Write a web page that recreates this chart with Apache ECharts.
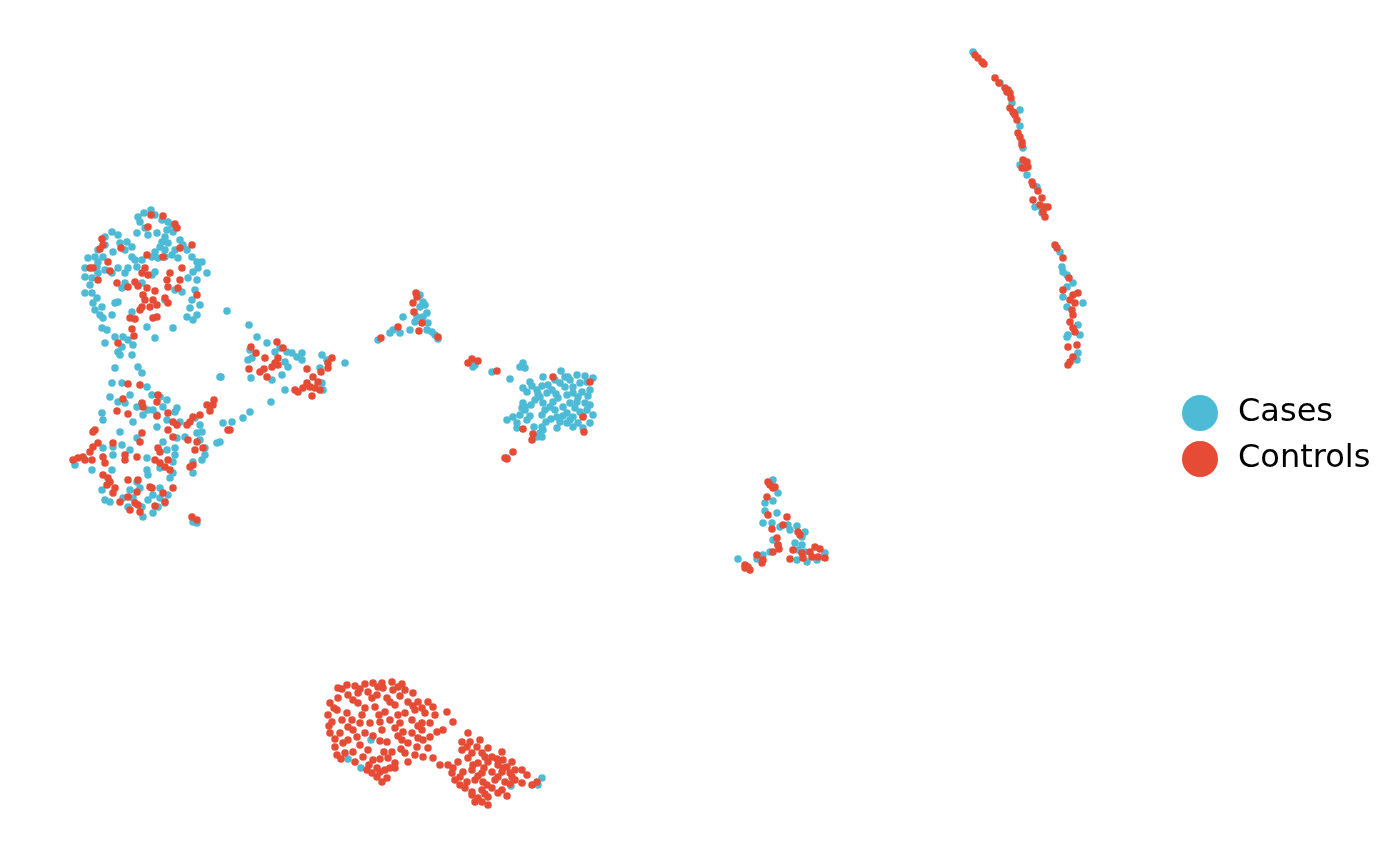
<!DOCTYPE html>
<html>
<head>
<meta charset="utf-8">
<script src="https://cdn.jsdelivr.net/npm/echarts@6/dist/echarts.min.js"></script>
<style>html,body{margin:0;padding:0;background:#fff;}#chart{width:1400px;height:865px;}</style>
</head>
<body>
<div id="chart"></div>
<script>
var seriesNames = ['Cases', 'Controls'];
var seriesColors = ['#4DBBD5', '#E64B35'];

// UMAP-like embedding coordinates [x, y] (y grows downward in this embedding)
var casesPoints = [
[15.1,21.0],[14.4,21.3],[13.8,21.7],[14.0,22.2],[15.5,21.5],[16.2,22.0],[16.8,22.2],[17.2,22.5],[16.7,23.0],[17.3,23.2],[13.7,23.3],[14.5,22.8],[14.8,23.5],[15.7,23.3],[16.5,23.7],[16.2,24.2],[16.8,24.3],[16.0,24.7],[16.5,25.0],[15.5,25.2],[15.2,25.7],[15.8,25.8],[16.5,25.7],[17.2,25.5],[18.0,24.0],[18.3,24.5],[18.7,25.0],[17.5,25.0],[17.8,25.8],[19.2,25.7],[19.7,26.2],[20.2,26.2],[19.8,26.8],[20.7,27.3],[19.3,27.2],[18.8,27.8],[19.7,28.0],[19.5,29.0],[18.2,29.2],[17.5,29.0],[19.2,30.0],[20.0,30.5],[19.0,30.8],[19.7,31.5],[18.7,31.7],[19.3,32.0],[11.2,23.2],[10.5,23.7],[11.8,23.5],[12.0,24.3],[12.7,24.2],[13.2,24.7],[12.5,25.0],[13.2,25.7],[13.5,26.0],[11.3,25.2],[10.5,24.5],[9.8,25.0],[9.5,25.7],[8.8,25.8],[10.3,25.7],[9.8,26.2],[9.7,26.7],[8.5,26.8],[8.5,27.7],[9.2,27.8],[9.8,27.3],[10.5,27.0],[11.2,27.3],[11.8,26.8],[12.5,27.3],[12.8,26.8],[13.7,26.7],[14.2,26.0],[15.2,27.5],[15.5,27.2],[14.2,28.3],[12.5,28.3],[12.2,28.8],[9.0,28.5],[8.5,29.3],[9.2,29.3],[9.7,29.8],[9.3,30.3],[9.5,31.0],[10.2,30.7],[10.0,31.5],[10.3,31.8],[11.8,30.2],[11.5,30.3],[13.2,31.2],[11.2,31.5],[10.2,32.8],[10.7,33.0],[11.5,33.7],[12.3,33.7],[12.8,34.0],[13.3,34.5],[12.2,34.7],[11.8,35.2],[12.0,35.5],[13.2,35.5],[10.5,34.3],[14.7,32.7],[15.5,33.8],[17.3,32.8],[16.5,30.0],
[11.5,36.8],[13.8,36.7],[14.2,37.3],[11.2,38.3],[12.2,38.3],[14.7,38.7],[11.0,39.7],[11.8,40.2],[13.0,39.5],[12.5,40.3],[13.7,40.7],[15.2,39.5],[16.0,39.7],[16.7,40.0],[16.3,40.7],[15.3,41.0],[17.7,40.8],[17.5,41.2],[10.2,41.3],[10.3,42.0],[13.3,42.2],[14.3,41.5],[14.8,41.0],[15.7,41.5],[16.7,42.0],[18.0,42.2],[15.7,42.7],[12.0,43.2],[13.7,43.8],[16.3,44.2],[17.7,43.8],[18.5,43.7],[10.3,44.8],[11.3,44.7],[12.2,44.5],[13.0,45.0],[11.3,45.5],[14.7,45.8],[16.7,45.0],[17.5,44.8],[17.5,45.5],[17.3,46.2],[16.0,46.8],[14.7,47.0],[14.8,47.5],[13.7,48.2],[14.0,48.8],[13.0,49.0],[11.2,47.0],[9.2,47.0],[7.5,46.5],[10.2,49.0],[10.5,50.0],[11.0,50.2],[12.3,49.8],[12.8,50.7],[13.3,49.8],[14.2,50.7],[14.3,51.7],[14.8,50.0],[15.3,49.5],[16.0,48.8],[16.0,49.8],[15.3,51.3],[15.8,50.7],[16.5,50.3],[16.8,49.5],[17.0,47.8],[17.3,47.3],[19.5,41.8],[20.0,42.5],[20.2,43.2],[19.7,43.3],[20.0,44.0],[20.5,44.8],[19.3,46.2],[20.2,46.0],[20.5,45.5],[22.3,42.3],[21.7,44.3],[22.0,44.2],[22.0,37.7],[19.3,47.3],[19.7,52.3],[19.3,52.2],
[22.7,31.1],[24.9,32.5],[25.7,33.7],[26.7,34.3],[25.0,35.0],[24.8,36.0],[25.2,35.8],[27.5,35.2],[28.0,34.8],[28.7,35.2],[29.2,35.3],[29.7,35.7],[30.2,35.3],[30.2,36.0],[28.5,36.2],[28.8,36.7],[28.2,37.5],[27.2,38.0],[25.1,37.8],[32.2,35.5],[32.0,36.8],[32.7,36.0],[34.5,36.3],[32.2,38.3],[32.3,39.0],[28.5,39.0],[22.1,37.7],[27.1,40.2],[25.0,41.2],[24.3,41.8],[23.2,42.2],
[42.0,29.5],[42.3,30.2],[42.5,30.5],[42.0,30.7],[42.7,31.3],[42.3,31.7],[41.7,31.7],[41.5,32.2],[42.8,32.3],[42.7,33.0],[43.2,33.2],[43.5,33.5],[43.8,33.9],[41.0,33.0],[40.3,31.7],[39.3,33.0],[39.0,33.3],[40.0,33.3],[37.8,34.0],
[47.5,36.5],[52.3,36.3],[52.0,36.7],[52.5,36.8],[49.2,37.2],[51.0,37.9],[54.3,37.7],[56.1,37.1],[56.5,37.7],[56.8,37.7],[57.0,38.0],[59.3,37.8],[52.3,38.8],[53.2,38.6],[52.7,39.2],[53.7,39.0],[54.2,38.6],[54.8,38.5],[55.2,39.0],[54.7,39.3],[54.0,39.7],[53.5,40.0],[56.0,38.3],[56.5,38.7],[57.3,38.7],[58.0,38.3],[58.7,38.2],[55.8,39.8],[56.7,39.5],[57.3,39.3],[58.2,39.2],[59.0,39.0],[52.3,40.3],[52.2,40.8],[52.5,40.7],[54.3,40.3],[54.5,41.0],[54.2,41.5],[55.0,40.7],[55.5,41.0],[55.7,41.7],[56.3,40.7],[57.0,40.3],[57.7,40.2],[58.5,40.3],[59.0,40.5],[56.7,41.3],[57.3,41.7],[58.0,41.2],[58.7,41.0],[59.3,41.5],[50.7,42.0],[51.3,41.7],[52.0,41.5],[53.0,41.6],[52.7,42.0],[51.7,42.3],[54.2,42.7],[54.0,43.3],[54.3,43.0],[55.7,42.8],[56.0,42.2],[56.7,42.3],[57.3,42.7],[57.8,42.3],[59.0,42.3],[58.3,42.8],[53.7,43.7],[54.2,43.7],[51.7,42.8],[47.3,36.7],[50.7,45.8],
[53.0,38.2],[55.5,38.0],[57.7,37.5],[58.5,37.6],[53.8,39.4],[55.6,39.4],[57.8,39.7],[58.8,39.6],[53.1,40.5],[55.3,40.2],[57.5,40.8],[58.3,41.6],[55.1,41.9],[56.3,41.6],[52.5,41.0],[54.6,42.2],[57.0,42.0],[53.4,42.7],
[37.1,74.0],[34.8,75.9],[36.1,76.8],[51.1,78.6],[54.2,77.8],[53.8,78.5],
[77.3,48.0],[77.8,49.3],[77.3,50.1],[76.5,50.3],[76.5,51.1],[77.7,51.3],[76.3,52.3],[77.2,52.3],[78.0,52.7],[78.8,52.5],[79.7,52.6],[79.0,53.0],[80.5,53.2],[80.2,53.7],[77.3,54.0],[77.8,54.5],[79.5,54.3],[80.2,54.5],[79.8,55.0],[80.5,55.2],[77.0,55.2],[76.3,55.5],[75.8,55.7],[73.8,55.9],[75.7,55.9],[79.7,56.0],[80.7,56.2],[81.7,56.0],[82.5,55.3],[82.3,55.7],
[97.3,5.2],[100.0,8.3],[101.2,10.3],[102.0,11.0],[102.0,12.6],[102.3,14.8],[102.0,16.5],[102.7,17.5],[103.7,18.7],[103.5,20.7],[104.2,21.3],[106.0,25.2],[106.2,26.7],[106.3,27.2],[106.7,27.5],[107.3,28.3],[106.7,28.7],[106.3,29.7],[108.3,30.3],[106.7,30.7],[107.8,32.5],[108.0,33.5],[106.8,33.5],[106.7,33.7],[107.8,35.3],[107.7,36.0],[104.2,20.8]
];

var controlsPoints = [
[15.1,21.5],[16.3,21.6],[17.5,22.4],[17.7,22.8],[14.8,22.7],[10.2,23.9],[10.3,24.5],[10.0,24.9],[12.1,24.8],[10.8,26.2],[9.0,26.8],[9.3,26.8],[11.0,27.1],[9.8,28.0],[11.7,28.3],[14.7,25.5],[16.3,25.7],[18.0,24.8],[19.2,24.5],[18.2,26.8],[17.0,27.3],[14.5,26.8],[14.2,27.3],[14.8,27.5],[13.5,28.2],[12.8,28.7],[13.8,28.6],[14.7,28.8],[15.5,29.1],[16.7,28.0],[16.8,28.7],[18.0,28.0],[17.8,28.8],[19.7,29.5],[14.3,29.5],[14.5,30.0],[15.3,30.0],[15.7,30.5],[16.5,29.8],[16.8,30.3],[14.2,30.7],[15.0,30.7],[14.0,31.0],[13.0,31.8],[13.5,31.9],[15.7,31.7],[15.3,31.8],[13.2,32.9],[13.4,33.6],[11.8,34.3],
[12.8,38.4],[14.0,38.5],[12.3,39.9],[11.7,41.1],[12.8,41.4],[14.2,40.3],[14.3,40.7],[15.8,39.5],[15.7,40.2],[15.7,41.6],[16.8,41.3],[17.3,42.2],[17.7,42.5],[16.8,43.0],[17.3,43.7],[18.7,42.5],[19.0,42.2],[20.7,40.5],[21.4,40.0],[21.0,41.1],[21.3,40.5],[20.0,41.5],[19.3,41.7],[18.8,44.0],[19.7,44.2],[19.5,45.0],[20.3,44.8],[19.0,46.7],[19.3,46.5],[22.8,43.0],[9.5,43.0],[9.3,43.2],[9.8,44.3],[9.3,44.7],[9.0,45.2],[8.3,45.7],[7.8,45.8],[7.3,46.0],[8.5,46.0],[9.2,46.0],[10.3,45.7],[10.5,46.3],[11.3,44.3],[12.5,45.5],[12.5,46.0],[14.2,43.3],[14.0,44.2],[13.7,45.7],[15.8,44.8],[16.0,45.2],[15.5,46.0],[16.0,46.3],[16.8,46.0],[16.5,46.7],[17.0,47.0],[10.3,47.5],[10.8,47.8],[11.0,48.2],[10.7,48.5],[11.5,48.8],[11.3,49.3],[12.8,48.0],[13.8,48.0],[15.0,48.7],[15.2,48.8],[17.3,48.8],[13.7,49.2],[13.8,50.5],[13.5,50.3],[14.0,51.2],[13.0,51.0],[12.0,50.2],[12.8,49.7],[16.3,49.3],[16.5,50.2],[15.5,50.6],[19.2,51.7],[19.7,52.0],
[25.1,34.7],[25.6,35.3],[27.7,34.2],[28.3,34.8],[26.5,35.8],[27.8,35.8],[27.5,36.3],[27.2,36.7],[27.8,36.5],[24.9,36.9],[26.0,37.2],[26.4,36.9],[26.7,37.7],[30.7,36.9],[33.2,35.8],[32.8,36.3],[32.8,36.8],[32.1,37.2],[31.3,37.7],[31.8,38.2],[30.7,38.3],[31.0,38.7],[30.3,38.8],[29.5,39.0],[29.8,39.2],[31.5,38.8],[32.0,39.0],[31.2,39.6],[23.0,43.0],
[41.6,29.3],[41.7,29.7],[41.3,30.3],[41.4,31.2],[42.2,32.3],[41.9,33.1],[39.8,32.7],[43.8,33.7],[38.1,33.8],
[47.2,35.9],[46.8,36.3],[47.8,36.1],[49.7,37.1],[55.3,37.7],[59.0,38.2],[58.3,41.7],[58.4,43.2],[52.3,42.9],[53.3,43.4],[53.2,44.0],[51.3,45.2],[50.7,45.9],[50.5,45.8],
[33.8,68.8],[34.7,68.5],[35.5,68.6],[36.5,68.4],[37.3,68.3],[38.2,68.3],[39.2,68.2],[39.8,68.7],[40.5,69.0],[41.3,69.3],[39.3,69.0],[38.3,68.8],
[33.0,70.3],[33.8,69.8],[34.8,69.5],[35.8,69.3],[36.8,69.2],[37.7,69.5],[38.7,69.8],[40.0,69.6],[40.8,70.2],[41.8,70.2],[42.8,70.2],[43.3,70.7],
[32.8,71.5],[33.7,71.0],[34.7,71.3],[35.8,70.3],[36.5,70.8],[37.5,70.7],[38.5,71.2],[39.5,70.5],[40.5,71.3],[41.5,71.0],[42.5,71.3],[43.5,71.5],[44.7,71.2],
[33.2,72.2],[34.2,72.0],[35.2,72.0],[36.0,72.3],[37.0,72.3],[38.0,72.2],[39.0,72.0],[40.0,72.3],[41.2,72.0],[42.2,72.3],[45.3,72.2],[44.3,73.0],[43.7,73.2],
[33.0,73.3],[34.0,73.3],[34.8,74.0],[35.7,73.7],[36.5,73.3],[38.2,73.0],[39.5,72.8],[40.3,73.2],[41.2,73.3],[42.2,73.0],[43.0,73.7],[38.7,74.2],[38.0,74.1],
[33.5,74.7],[34.3,74.3],[35.3,75.2],[36.8,75.0],[39.2,75.2],[40.2,74.0],[40.8,74.3],[41.7,74.7],[42.3,74.0],[33.7,75.5],[34.5,75.3],
[35.5,76.2],[36.3,75.7],[37.3,76.0],[38.0,75.9],[38.8,75.8],[39.5,76.3],[40.5,75.3],[41.5,75.5],[42.3,75.7],[43.3,75.8],[44.0,76.5],
[36.7,77.0],[37.7,76.8],[38.5,77.0],[39.5,76.8],[37.7,77.7],[38.2,78.2],[38.7,77.8],[37.2,77.3],
[34.2,68.9],[36.0,68.9],[37.8,68.7],[40.2,68.4],[33.4,70.8],[35.3,70.0],[37.2,69.8],[39.0,70.2],[41.3,70.6],[42.2,70.8],[32.9,72.6],[34.8,72.7],[36.2,71.5],[37.9,71.5],[39.8,71.5],[41.8,72.6],[43.0,72.3],[33.5,73.9],[35.3,73.0],[37.3,73.6],[39.8,73.6],[41.8,73.8],[34.1,75.9],[36.0,74.5],[38.4,75.2],[40.1,74.9],[42.8,74.8],[36.9,76.5],[39.0,76.8],[40.8,76.2],[38.0,77.2],
[46.8,73.3],[46.2,74.2],[47.0,74.2],[48.0,74.0],[48.8,74.8],[50.2,75.2],[46.2,75.0],[47.2,75.3],[48.2,75.3],[49.2,75.7],[50.3,76.0],[51.2,76.2],[44.8,76.5],[45.8,76.2],[46.8,75.8],[47.8,76.3],[48.8,76.2],[49.8,76.5],[50.7,76.7],[51.5,77.0],[52.2,77.0],[45.2,77.3],[46.3,77.2],[47.2,77.0],[48.2,77.3],[49.2,77.2],[50.2,77.2],[51.2,77.7],[52.7,77.5],[45.5,78.0],[46.7,78.2],[47.5,78.0],[48.3,78.2],[49.5,78.0],[50.5,78.2],[51.5,78.0],[53.2,78.5],[53.7,78.2],[46.5,78.8],[47.2,79.2],[48.2,79.0],[49.2,78.8],[50.2,79.0],[47.2,79.5],[47.8,79.8],[48.8,79.7],[50.7,79.6],[47.5,80.2],[48.8,80.5],
[46.7,74.7],[47.7,74.7],[48.5,75.7],[49.7,75.9],[45.3,76.8],[47.3,76.5],[48.4,76.8],[50.3,76.8],[51.0,77.3],[46.0,77.7],[47.8,77.6],[49.8,77.7],[51.0,78.4],[52.2,78.3],[46.0,78.5],[48.7,78.5],[49.8,79.3],[48.2,80.2],[48.5,79.4],
[76.8,48.2],[77.0,48.5],[77.3,48.8],[77.5,48.7],[76.7,49.7],[76.8,51.5],[78.7,51.7],[78.3,52.5],[77.2,52.9],[77.7,53.8],[77.8,54.5],[77.9,54.9],[79.8,53.2],[80.0,53.5],[79.3,55.0],[80.2,55.3],[81.0,55.2],[81.5,54.7],[82.0,54.9],[81.2,55.7],[81.8,55.7],[82.5,55.8],[80.3,55.8],[79.0,55.9],[77.3,55.2],[76.3,56.0],[76.2,56.3],[75.7,55.5],[74.5,56.5],[74.8,56.7],[75.0,57.0],[74.5,56.8],
[97.5,5.5],[97.8,5.8],[98.2,6.2],[98.4,6.4],[99.5,7.8],[99.9,8.3],[100.5,8.8],[100.7,9.2],[101.0,9.3],[100.8,9.0],[101.1,9.8],[101.0,10.8],[101.3,11.2],[101.5,11.5],[101.7,12.0],[101.4,11.3],[101.8,13.3],[102.0,13.7],[102.2,14.2],[102.2,14.5],[102.3,16.0],[102.7,16.2],[102.5,16.8],[102.8,16.7],[102.2,16.8],[103.2,18.2],[103.3,18.5],[103.8,19.1],[103.3,20.0],[104.2,19.8],[104.0,20.5],[104.5,20.7],[104.8,20.7],[104.3,21.2],[104.5,21.7],
[105.5,24.5],[105.7,24.8],[106.3,25.8],[106.9,27.8],[106.3,29.0],[107.3,29.5],[107.8,29.3],[107.0,30.0],[107.5,30.3],[107.2,31.0],[107.3,31.5],[107.0,32.2],[107.3,32.8],[107.5,33.2],[106.8,34.7],[107.7,34.5],[107.3,35.7],[107.0,36.2],[106.8,36.5]
];

var chart = echarts.init(document.getElementById('chart'));
chart.setOption({
  animation: false,
  backgroundColor: '#ffffff',
  grid: { left: 0, right: 0, top: 0, bottom: 0 },
  xAxis: { type: 'value', min: 0, max: 140, show: false },
  yAxis: { type: 'value', min: 0, max: 86.5, inverse: true, show: false },
  legend: {
    data: seriesNames,
    orient: 'vertical',
    left: 1177,
    top: 390,
    icon: 'circle',
    itemWidth: 36,
    itemHeight: 36,
    itemGap: 10,
    textStyle: { fontSize: 32, fontFamily: 'DejaVu Sans', color: '#000000', padding: [0, 0, 0, 15] }
  },
  series: [
    { name: seriesNames[0], type: 'scatter', data: casesPoints, symbolSize: 7.5,
      itemStyle: { color: seriesColors[0], opacity: 1 } },
    { name: seriesNames[1], type: 'scatter', data: controlsPoints, symbolSize: 7.5,
      itemStyle: { color: seriesColors[1], opacity: 1 } }
  ]
});
</script>
</body>
</html>
